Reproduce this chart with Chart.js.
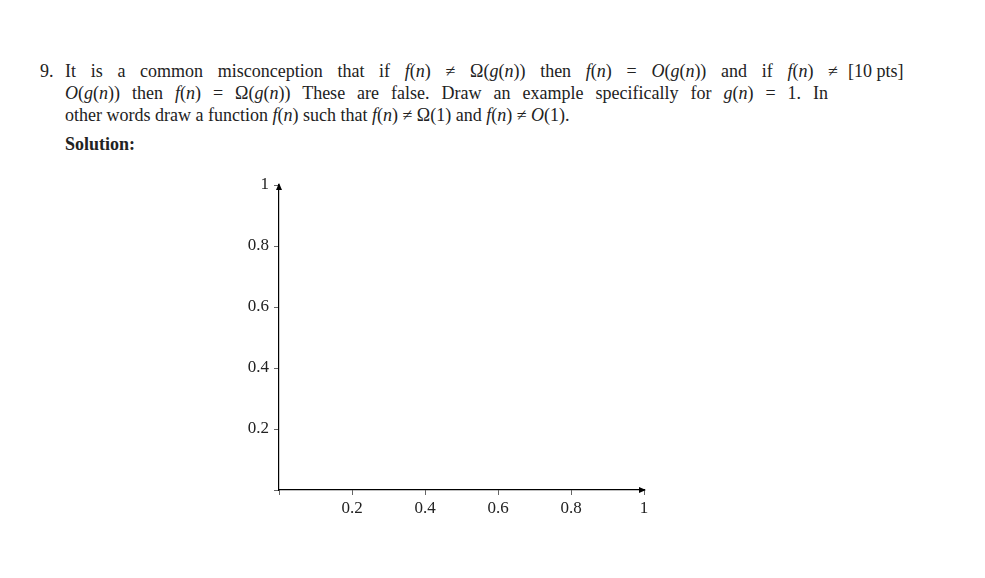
<!DOCTYPE html>
<html>
<head>
<meta charset="utf-8">
<script src="https://cdn.jsdelivr.net/npm/chart.js@4"></script>
<style>
  body { margin: 0; width: 985px; height: 578px; background: #fff; position: relative; overflow: hidden; }
  .q { position: absolute; left: 40px; top: 60px; font-family: "Liberation Serif", "DejaVu Serif", serif; font-size: 18px; line-height: 22px; color: #222; }
  .q .num { position: absolute; left: 0; top: 0; }
  .q .line { position: absolute; left: 25px; white-space: nowrap; text-align: justify; text-align-last: justify; }
  .q .pts { position: absolute; left: 808px; top: 0; white-space: nowrap; }
  .sol { position: absolute; left: 65px; top: 134px; font-family: "Liberation Serif", serif; font-size: 18px; font-weight: bold; color: #222; }
  i { font-style: italic; }
  #wrap { position: absolute; left: 0; top: 0; width: 985px; height: 578px; }
</style>
</head>
<body>
<div class="q">
  <span class="num">9.</span>
  <span class="pts">[10 pts]</span>
  <div class="line" style="top:0; width:773px; white-space:normal">It is a common misconception that if <i>f</i>(<i>n</i>) ≠ Ω(<i>g</i>(<i>n</i>)) then <i>f</i>(<i>n</i>) = <i>O</i>(<i>g</i>(<i>n</i>)) and if <i>f</i>(<i>n</i>) ≠</div>
  <div class="line" style="top:22px; width:763px; white-space:normal"><i>O</i>(<i>g</i>(<i>n</i>)) then <i>f</i>(<i>n</i>) = Ω(<i>g</i>(<i>n</i>)) These are false. Draw an example specifically for <i>g</i>(<i>n</i>) = 1. In</div>
  <div class="line" style="top:44px; text-align-last:left">other words draw a function <i>f</i>(<i>n</i>) such that <i>f</i>(<i>n</i>) ≠ Ω(1) and <i>f</i>(<i>n</i>) ≠ <i>O</i>(1).</div>
</div>
<div class="sol">Solution:</div>
<div id="wrap"><canvas id="chart"></canvas></div>
<script>
const xTicks = [0, 0.2, 0.4, 0.6, 0.8, 1];
const yTicks = [0, 0.2, 0.4, 0.6, 0.8, 1];
const points = [];

const arrows = {
  id: 'arrows',
  afterDraw(chart) {
    const ctx = chart.ctx, a = chart.chartArea;
    ctx.save();
    ctx.fillStyle = '#000';
    ctx.beginPath();
    ctx.moveTo(a.left, a.top - 2); ctx.lineTo(a.left - 3, a.top + 5); ctx.lineTo(a.left + 3, a.top + 5); ctx.closePath(); ctx.fill();
    ctx.beginPath();
    ctx.moveTo(a.right + 2, a.bottom); ctx.lineTo(a.right - 5, a.bottom - 3); ctx.lineTo(a.right - 5, a.bottom + 3); ctx.closePath(); ctx.fill();
    ctx.restore();
  }
};

const font = { family: '"Liberation Serif", serif', size: 17 };
const label = v => (v === 0 ? '' : String(v));

new Chart(document.getElementById('chart'), {
  type: 'scatter',
  data: { datasets: [{ data: points }] },
  plugins: [arrows],
  options: {
    responsive: true,
    maintainAspectRatio: false,
    animation: false,
    layout: { padding: { left: 229, top: 185, right: 341, bottom: 58 } },
    plugins: { legend: { display: false }, tooltip: { enabled: false } },
    scales: {
      x: {
        min: 0, max: 1,
        afterFit: s => { s.height = 30; },
        afterBuildTicks: s => { s.ticks = xTicks.map(v => ({ value: v })); },
        ticks: { callback: label, color: '#222', font, padding: 3 },
        grid: { drawOnChartArea: false, tickLength: 5, color: '#666' },
        border: { color: '#000', width: 1.2 }
      },
      y: {
        min: 0, max: 1,
        afterFit: s => { s.width = 50; },
        afterBuildTicks: s => { s.ticks = yTicks.map(v => ({ value: v })); },
        ticks: { callback: label, color: '#222', font, padding: 5 },
        grid: { drawOnChartArea: false, tickLength: 5, color: '#666' },
        border: { color: '#000', width: 1.2 }
      }
    }
  }
});
</script>
</body>
</html>
